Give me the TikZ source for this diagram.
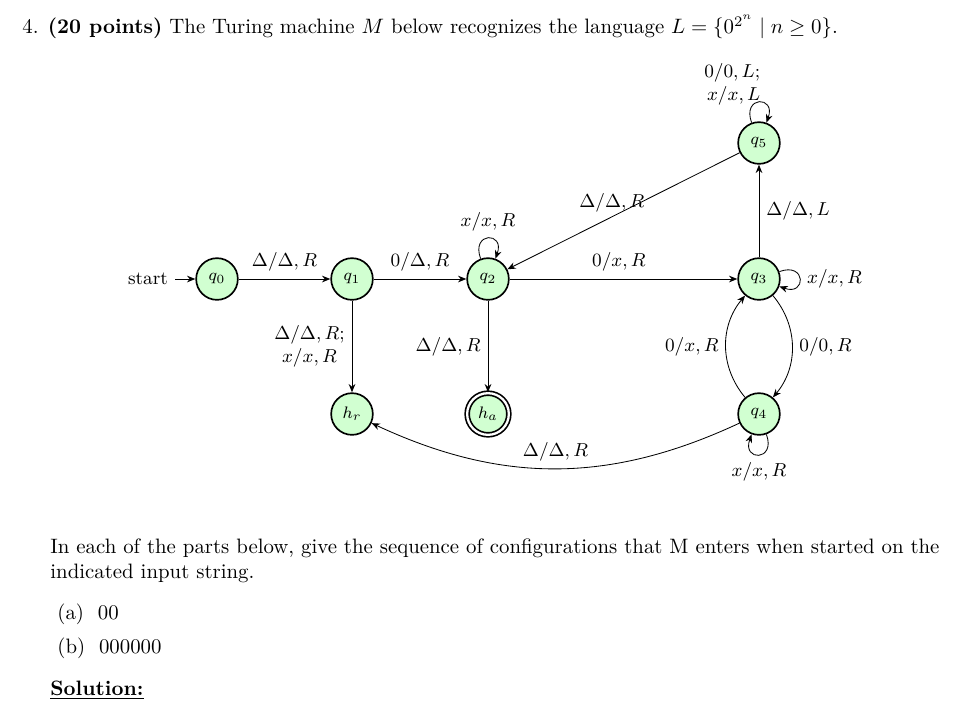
\documentclass[tikz,border=0pt]{standalone}
\usetikzlibrary{arrows.meta,automata,positioning}
\begin{document}
\begin{tikzpicture}[x=0.48pt,y=-0.48pt,>={Stealth[length=4pt,width=3.2pt]},
  st/.style={circle,draw,thick,fill=green!18,minimum size=20pt,inner sep=0pt,font=\footnotesize},
  acc/.style={st,double,double distance=1.1pt},
  txt/.style={anchor=west,inner sep=0pt}]
\useasboundingbox (0,0) rectangle (953,725);
\node[txt] (h) at (22,27) {4. \textbf{(20 points)} The Turing machine $M$ below recognizes the language $L=\{0^{2^n}\mid n\geq 0\}$.};
\begin{scope}[font=\small]
\node[st] (q0) at (217,279) {$q_0$};
\node[st] (q1) at (352,279) {$q_1$};
\node[st] (q2) at (488,279) {$q_2$};
\node[st] (q3) at (759,279) {$q_3$};
\node[st] (q5) at (759,143) {$q_5$};
\node[st] (hr) at (352,414) {$h_r$};
\node[acc] (ha) at (488,414) {$h_a$};
\node[st] (q4) at (759,414) {$q_4$};
\node (start) at (148,279) {start};
\draw[->] (start) -- (q0);
\draw[->] (q0) -- node[above]{$\Delta/\Delta,R$} (q1);
\draw[->] (q1) -- node[above]{$0/\Delta,R$} (q2);
\draw[->] (q2) -- node[above,pos=0.48]{$0/x,R$} (q3);
\draw[->] (q2) to[out=110,in=70,looseness=5] node[above]{$x/x,R$} (q2);
\draw[->] (q3) to[out=20,in=-20,looseness=5] node[right]{$x/x,R$} (q3);
\draw[->] (q5) to[out=110,in=70,looseness=5] coordinate[pos=0.3](l5) (q5);
\node[align=right,anchor=south east,inner sep=0pt] (l5t) at ([xshift=4pt]l5) {$0/0,L;$\\$x/x,L$};
\draw[->] (q3) -- node[right]{$\Delta/\Delta,L$} (q5);
\draw[->] (q5) -- node[pos=0.55,above,inner sep=2pt]{$\Delta/\Delta,R$} (q2);
\draw[->] (q1) -- node[left,align=center]{$\Delta/\Delta,R;$\\$x/x,R$} (hr);
\draw[->] (q2) -- node[left]{$\Delta/\Delta,R$} (ha);
\draw[->] (q3) to[bend left=40] node[right]{$0/0,R$} (q4);
\draw[->] (q4) to[bend left=40] node[left]{$0/x,R$} (q3);
\draw[->] (q4) to[out=-70,in=-110,looseness=5] node[below]{$x/x,R$} (q4);
\draw[->] (q4) to[bend left=25] node[above,pos=0.5]{$\Delta/\Delta,R$} (hr);
\end{scope}
\node[txt] (p1) at (50,548) {In each of the parts below, give the sequence of configurations that M enters when started on the};
\node[txt] (p2) at (50,573) {indicated input string.};
\node[txt] (a) at (57,614) {(a)\ \ 00};
\node[txt] (b) at (57,648) {(b)\ \ 000000};
\node[txt] (s) at (50,690) {\underline{\textbf{Solution:}}};
\end{tikzpicture}
\end{document}
